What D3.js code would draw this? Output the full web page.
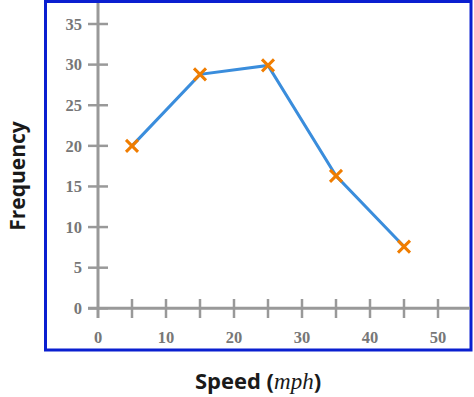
<!DOCTYPE html>
<html><head><meta charset="utf-8">
<script src="https://cdn.jsdelivr.net/npm/d3@7"></script>
<style>body{margin:0;background:#fff}</style>
</head><body>
<svg id="c" width="474" height="397"></svg>
<script>
const speeds = [5, 15, 25, 35, 45];
const frequency = [20, 28.8, 29.9, 16.3, 7.6];
const xTicks = [0, 10, 20, 30, 40, 50];
const xMinor = [5, 15, 25, 35, 45];
const yTicks = [0, 5, 10, 15, 20, 25, 30, 35];

const svg = d3.select("#c");
const x = d3.scaleLinear().domain([0, 50]).range([98, 438]);
const y = d3.scaleLinear().domain([0, 35]).range([308.3, 24]);
const axisCol = "#999";

// frame
svg.append("rect").attr("x", 45.5).attr("y", 1.5).attr("width", 425.5).attr("height", 348.5)
  .attr("fill", "none").attr("stroke", "#0a1fd0").attr("stroke-width", 3);

// axes lines
svg.append("line").attr("x1", x(0)).attr("x2", x(0)).attr("y1", 3).attr("y2", 318)
  .attr("stroke", axisCol).attr("stroke-width", 3);
svg.append("line").attr("x1", 88).attr("x2", 470).attr("y1", y(0)).attr("y2", y(0))
  .attr("stroke", axisCol).attr("stroke-width", 3);

// y ticks
svg.selectAll(".yt").data(yTicks).enter().append("line")
  .attr("x1", 88).attr("x2", 108).attr("y1", d => y(d)).attr("y2", d => y(d))
  .attr("stroke", axisCol).attr("stroke-width", 2.5);
svg.selectAll(".yl").data(yTicks).enter().append("text")
  .attr("x", 82).attr("y", d => y(d)).attr("dy", "0.35em").attr("text-anchor", "end")
  .attr("font-family", "Liberation Serif, serif").attr("font-weight", "bold").attr("font-size", 16.5)
  .attr("fill", "#777").text(d => d);

// x ticks
svg.selectAll(".xt").data(xTicks.concat(xMinor).filter(d => d > 0)).enter().append("line")
  .attr("x1", d => x(d)).attr("x2", d => x(d)).attr("y1", 299).attr("y2", 318)
  .attr("stroke", axisCol).attr("stroke-width", 2.5);
svg.selectAll(".xl").data(xTicks).enter().append("text")
  .attr("x", d => x(d)).attr("y", 342.5).attr("text-anchor", "middle")
  .attr("font-family", "Liberation Serif, serif").attr("font-weight", "bold").attr("font-size", 16.5)
  .attr("fill", "#777").text(d => d);

// line
const pts = speeds.map((s, i) => [s, frequency[i]]);
svg.append("path").datum(pts)
  .attr("d", d3.line().x(d => x(d[0])).y(d => y(d[1])))
  .attr("fill", "none").attr("stroke", "#3a8ddc").attr("stroke-width", 3);

// markers
const m = 6;
svg.selectAll(".mk").data(pts).enter().append("path")
  .attr("d", d => `M${x(d[0])-m},${y(d[1])-m}L${x(d[0])+m},${y(d[1])+m}M${x(d[0])-m},${y(d[1])+m}L${x(d[0])+m},${y(d[1])-m}`)
  .attr("stroke", "#f07d00").attr("stroke-width", 3).attr("fill", "none");

// titles
svg.append("text").attr("transform", "translate(25,176) rotate(-90)").attr("text-anchor", "middle")
  .attr("font-family", "'Open Sans', 'Noto Sans', sans-serif").attr("font-weight", "bold").attr("font-size", 21)
  .attr("fill", "#1a1a1a").text("Frequency");
const t = svg.append("text").attr("x", 258).attr("y", 388.5).attr("text-anchor", "middle")
  .attr("font-family", "'Open Sans', 'Noto Sans', sans-serif").attr("font-weight", "bold").attr("font-size", 22)
  .attr("fill", "#1a1a1a");
t.append("tspan").text("Speed (");
t.append("tspan").attr("font-family", "Liberation Serif, serif").attr("font-style", "italic").attr("font-weight", "normal").attr("font-size", 23).text("mph");
t.append("tspan").text(")");
</script>
</body></html>
